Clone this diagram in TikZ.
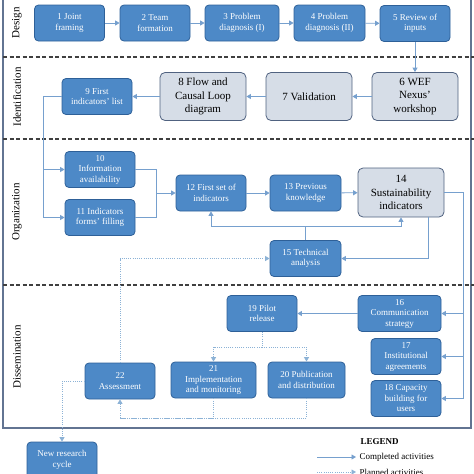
\documentclass[tikz,border=0pt]{standalone}
\usepackage{fontspec}
\setmainfont{Liberation Serif}
\usetikzlibrary{arrows.meta}

\definecolor{boxblue}{RGB}{77,137,199}
\definecolor{boxedge}{RGB}{46,96,152}
\definecolor{boxgrey}{RGB}{214,221,231}
\definecolor{greyedge}{RGB}{80,98,128}
\definecolor{flowblue}{RGB}{118,160,206}
\definecolor{planblue}{RGB}{140,178,214}
\definecolor{framegrey}{RGB}{98,116,146}

\begin{document}
\begin{tikzpicture}[x=1pt,y=-1pt,
    blue_node/.style={draw=boxedge,fill=boxblue,line width=0.8pt,rounded corners=4pt,text=white,align=center,font=\fontsize{9}{10.5}\selectfont,minimum width=70pt,minimum height=36pt,inner sep=1pt},
    grey_node/.style={draw=greyedge,fill=boxgrey,line width=0.8pt,rounded corners=5pt,text=black,align=center,font=\fontsize{11}{13.3}\selectfont,minimum width=86pt,minimum height=48pt,inner sep=1pt},
    lane_label/.style={rotate=90,font=\fontsize{11}{13}\selectfont},
    flow_line/.style={draw=flowblue,line width=0.9pt},
    flow_arrow/.style={flow_line,-{Triangle[length=4.5pt,width=5pt]},color=flowblue},
    plan_line/.style={draw=planblue,line width=0.9pt,dash pattern=on 1pt off 1.2pt},
    plan_arrow/.style={plan_line,-{Triangle[length=4.5pt,width=5pt]},color=planblue}]

    \useasboundingbox (0,0) rectangle (474,474);

    % frame and lanes
    \draw[framegrey,line width=1.4pt] (3,-3) rectangle (471,428);
    \foreach \y in {57,139,285}
        \draw[black!75,line width=1.2pt,dash pattern=on 4pt off 2.5pt] (3,\y) -- (474,\y);
    \node[lane_label] (design) at (17,23) {Design};
    \node[lane_label] (ident) at (17,97) {Identification};
    \node[lane_label] (organ) at (17,212) {Organization};
    \node[lane_label] (dissem) at (17,357) {Dissemination};

    % design
    \node[blue_node] (1) at (69.5,23) {1 Joint\\framing};
    \node[blue_node] (2) at (155,23) {2 Team\\formation};
    \node[blue_node, minimum width=74pt] (3) at (242,23) {3 Problem\\diagnosis (I)};
    \node[blue_node, minimum width=71pt] (4) at (329.5,23) {4 Problem\\diagnosis (II)};
    \node[blue_node] (5) at (415,23.5) {5 Review of\\inputs};

    % identification
    \node[grey_node] (6) at (415,96.5) {6 WEF\\Nexus'\\workshop};
    \node[grey_node] (7) at (309,96.5) {7 Validation};
    \node[grey_node] (8) at (203,96.5) {8 Flow and\\Causal Loop\\diagram};
    \node[blue_node] (9) at (97,96.5) {9 First\\indicators' list};

    % organization
    \node[blue_node] (10) at (100,169.5) {10\\Information\\availability};
    \node[blue_node] (11) at (100,217.5) {11 Indicators\\forms' filling};
    \node[blue_node] (12) at (211,193) {12 First set of\\indicators};
    \node[blue_node, minimum width=71pt] (13) at (305.5,193) {13 Previous\\knowledge};
    \node[grey_node, minimum height=49pt] (14) at (401,192.5) {14\\Sustainability\\indicators};
    \node[blue_node, minimum width=71pt] (15) at (305.5,258.5) {15 Technical\\analysis};

    % dissemination
    \node[blue_node, minimum width=83pt] (16) at (399.5,313.5) {16\\Communication\\strategy};
    \node[blue_node] (17) at (406,356.5) {17\\Institutional\\agreements};
    \node[blue_node] (18) at (406,398.5) {18 Capacity\\building for\\users};
    \node[blue_node] (19) at (262,313.5) {19 Pilot\\release};
    \node[blue_node, minimum width=77pt] (20) at (306.5,380) {20 Publication\\and distribution};
    \node[blue_node, minimum width=85pt] (21) at (213.5,380) {21\\Implementation\\and monitoring};
    \node[blue_node] (22) at (120,381) {22\\Assessment};
    \node[blue_node] (new) at (62,460) {New research\\cycle};

    % junctions
    \coordinate (c9) at (43,217.5);
    \coordinate (c12) at (156,193);
    \coordinate (c14) at (463,398.5);
    \coordinate (c15) at (428,258.5);
    \coordinate (c15up) at (305.5,226);
    \coordinate (c19) at (262,347);
    \coordinate (c22) at (120,418);

    % completed activities
    \draw[flow_arrow] (1) -- (2);
    \draw[flow_arrow] (2) -- (3);
    \draw[flow_arrow] (3) -- (4);
    \draw[flow_arrow] (4) -- (5);
    \draw[flow_arrow] (5) -- (6);
    \draw[flow_arrow] (6) -- (7);
    \draw[flow_arrow] (7) -- (8);
    \draw[flow_arrow] (8) -- (9);
    \draw[flow_arrow] (9.west) -| (c9) -- (11.west);
    \draw[flow_arrow] (c9 |- 10) -- (10.west);
    \draw[flow_line] (10.east) -| (c12);
    \draw[flow_line] (11.east) -| (c12);
    \draw[flow_arrow] (c12) -- (12.west);
    \draw[flow_arrow] (12) -- (13);
    \draw[flow_arrow] (13) -- (14);
    \draw[flow_arrow] (14.east) -| (c14) -- (18.east);
    \draw[flow_arrow] (c14 |- 16) -- (16.east);
    \draw[flow_arrow] (c14 |- 17) -- (17.east);
    \draw[flow_arrow] (c15 |- 14.south) -- (c15) -- (15.east);
    \draw[flow_line] (15.north) -- (c15up);
    \draw[flow_arrow] (c15up) -| (12.south);
    \draw[flow_arrow] (c15up) -| (14.south);
    \draw[flow_arrow] (16) -- (19);

    % planned activities
    \draw[plan_line] (19.south) -- (c19);
    \draw[plan_arrow] (c19) -| (21.north);
    \draw[plan_arrow] (c19) -| (20.north);
    \draw[plan_line] (21.south) |- (c22);
    \draw[plan_line] (20.south) |- (c22);
    \draw[plan_arrow] (c22) -- (22.south);
    \draw[plan_arrow] (22.north) |- (15.west);
    \draw[plan_arrow] (22.west) -| (new.north);

    % legend
    \node[font=\fontsize{9}{11}\selectfont\bfseries, anchor=west] (legend) at (357,442) {LEGEND};
    \coordinate (lg1) at (317,457);
    \coordinate (lg2) at (317,472);
    \node[font=\fontsize{9}{11}\selectfont, anchor=west] (done) at (356,457) {Completed activities};
    \node[font=\fontsize{9}{11}\selectfont, anchor=west] (plan) at (356,472) {Planned activities};
    \draw[flow_arrow] (lg1) -- (done.west);
    \draw[plan_arrow] (lg2) -- (plan.west);
\end{tikzpicture}
\end{document}
